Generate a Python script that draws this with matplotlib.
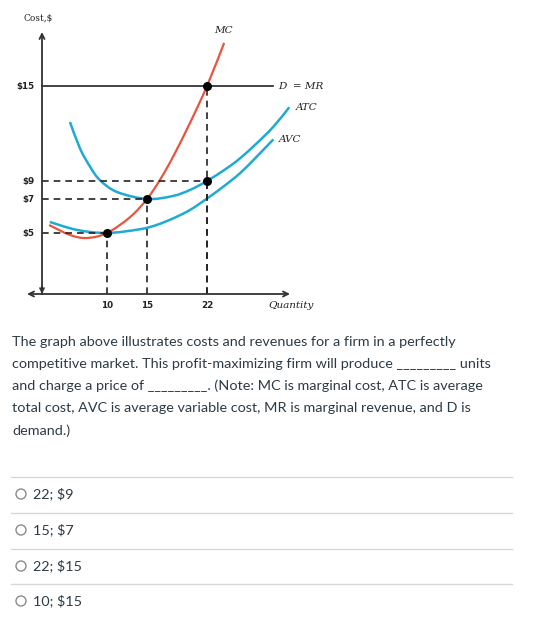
import numpy as np
import matplotlib
matplotlib.use("Agg")
import matplotlib.pyplot as plt
from matplotlib.patches import Circle, PathPatch
from matplotlib.path import Path

# Values (quantity, $)
mc_q = [1.1, 4.3, 6.9, 10, 12.9, 15, 16.5, 18.05, 20.0, 22, 24.0]
mc_c = [5.47, 4.84, 4.59, 5, 5.94, 7, 9.06, 10.54, 12.65, 15, 17.72]

atc_q = [4.3, 5.85, 7.4, 8.9, 11.25, 15, 18.0, 20.0, 22, 24.3, 25.85, 27.8, 29.75, 31.6]
atc_c = [12.73, 11.05, 9.9, 9.06, 7.78, 7, 7.33, 8.0, 9, 9.8, 10.43, 11.38, 12.43, 13.66]

avc_q = [1.2, 5.4, 10, 14.1, 16.1, 18.05, 20.0, 22, 23.9, 25.85, 27.8, 29.75]
avc_c = [5.65, 5.18, 5, 5.22, 5.47, 5.86, 6.35, 7.05, 8.37, 9.49, 10.54, 11.63]

price = 15
mr_end = 29.7
points_q = [22, 22, 15, 10]
points_c = [15, 9, 7, 5]

y_ticks = [15, 9, 7, 5]
y_labels = ["\\$15", "\\$9", "\\$7", "\\$5"]
x_ticks = [10, 15, 22]
x_labels = ["10", "15", "22"]

question = ("The graph above illustrates costs and revenues for a firm in a perfectly\n"
            "competitive market. This profit-maximizing firm will produce _________ units\n"
            "and charge a price of _________. (Note: MC is marginal cost, ATC is average\n"
            "total cost, AVC is average variable cost, MR is marginal revenue, and D is\n"
            "demand.)")
options = ["22; \\$9", "15; \\$7", "22; \\$15", "10; \\$15"]

# the sketch is not drawn to a linear scale, so use piecewise-linear scales
x_vals = [-10, 0, 10, 15, 22, 40]
x_pix = [-65, 0, 65, 105, 165, 319.3]
y_vals = [-5, 0, 5, 7, 9, 15, 25]
y_pix = [-61, 0, 61, 95, 113, 208, 366.3]

def xf(v):
    return np.interp(v, x_vals, x_pix)

def xi(h):
    return np.interp(h, x_pix, x_vals)

def yf(v):
    return np.interp(v, y_vals, y_pix)

def yi(h):
    return np.interp(h, y_pix, y_vals)

def smooth_path(qs, cs):
    # bezier through the points (Catmull-Rom handles), built in scale space
    p = np.column_stack([xf(np.array(qs, float)), yf(np.array(cs, float))])
    p = np.vstack([p[0], p, p[-1]])
    verts = [p[1]]
    codes = [Path.MOVETO]
    for i in range(1, len(p) - 2):
        c1 = p[i] + (p[i + 1] - p[i - 1]) / 6
        c2 = p[i + 1] - (p[i + 2] - p[i]) / 6
        verts += [c1, c2, p[i + 1]]
        codes += [Path.CURVE4] * 3
    verts = np.array(verts)
    verts = np.column_stack([xi(verts[:, 0]), yi(verts[:, 1])])
    return Path(verts, codes)

red = "#e8553e"
blue = "#1fabd1"
axc = "#333333"

fig = plt.figure(figsize=(5.46, 6.24), dpi=100)
W, H = 546, 624

# chart axes: pixel box 20..300 (x), 20..300 (y)
ax = fig.add_axes([20 / W, 1 - 300 / H, 280 / W, 280 / H])
ax.set_xscale("function", functions=(xf, xi))
ax.set_yscale("function", functions=(yf, yi))
ax.set_xlim(xi(-22), xi(258))
ax.set_ylim(yi(-6), yi(274))
ax.axis("off")

# axes with arrows
ax.annotate("", xy=(xi(-15), 0), xytext=(xi(248), 0),
            arrowprops=dict(arrowstyle="<->", color=axc, lw=1.3, shrinkA=0, shrinkB=0,
                            mutation_scale=9))
ax.annotate("", xy=(0, yi(262)), xytext=(0, 0),
            arrowprops=dict(arrowstyle="->", color=axc, lw=1.3, shrinkA=0, shrinkB=0,
                            mutation_scale=9))
ax.annotate("", xy=(0, 0), xytext=(0, yi(8)),
            arrowprops=dict(arrowstyle="->", color=axc, lw=1.3, shrinkA=0, shrinkB=0,
                            mutation_scale=7))

# demand = MR
ax.plot([0, mr_end], [price, price], color="#222222", lw=1.2)

# dashed guides
dash = dict(color="#222222", lw=1.2, ls=(0, (4, 3)))
for q, c in zip(points_q[1:], points_c[1:]):
    ax.plot([0, q], [c, c], **dash)
for q, c in zip(points_q, points_c):
    ax.plot([q, q], [0, c], **dash)

for qs, cs, col, lw in [(atc_q, atc_c, blue, 1.8), (avc_q, avc_c, blue, 1.8),
                        (mc_q, mc_c, red, 1.6)]:
    ax.add_patch(PathPatch(smooth_path(qs, cs), fill=False, ec=col, lw=lw,
                           capstyle="butt"))

ax.scatter(points_q, points_c, s=30, color="black", zorder=5)

serif = dict(family="DejaVu Serif", style="italic", fontsize=7.5, color="#222222")
ax.text(xi(181), yi(264), "MC", ha="center", va="center", **serif)
ax.text(xi(236), price, "D  = MR", ha="left", va="center", **serif)
ax.text(xi(254), yi(187), "ATC", ha="left", va="center", **serif)
ax.text(xi(237), yi(155), "AVC", ha="left", va="center", **serif)
ax.text(xi(249), yi(-11), "Quantity", ha="center", va="center", **serif)
ax.text(xi(-4), yi(276), "Cost,\\$", ha="center", va="center", family="DejaVu Serif",
        fontsize=6.5, color="#222222")

for v, lab in zip(y_ticks, y_labels):
    ax.text(xi(-8), v, lab, ha="right", va="center", fontsize=6.3, fontweight="bold",
            color="#222222")
for v, lab in zip(x_ticks, x_labels):
    ax.text(v, yi(-11), lab, ha="center", va="center", fontsize=6.3, fontweight="bold",
            color="#222222")

# question and answer options in pixel coordinates
tx = fig.add_axes([0, 0, 1, 1])
tx.set_xlim(0, W)
tx.set_ylim(H, 0)
tx.axis("off")
tx.text(12, 336, question, ha="left", va="top", family="Lato", fontsize=10.4,
        color="#2d3b45", linespacing=1.97)

sep_y = [477, 513, 549, 584]
for i, y in enumerate(sep_y):
    tx.plot([11, 512], [y, y], color="#d8d8d8", lw=1)
    cy = y + 17
    tx.add_patch(Circle((21, cy), 5, fill=False, ec="#8a8a8a", lw=1))
    tx.text(33, cy, options[i], ha="left", va="center", family="Lato", fontsize=10.4,
            color="#2d3b45")

fig.savefig("out.png", dpi=100)
